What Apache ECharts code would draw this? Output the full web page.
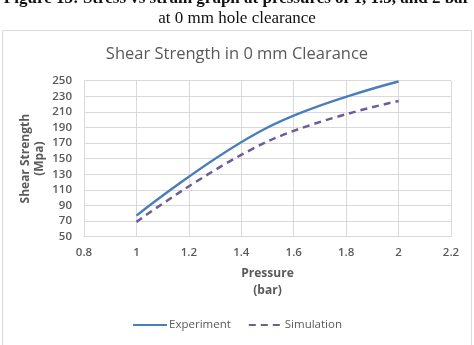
<!DOCTYPE html>
<html>
<head>
<meta charset="utf-8">
<script src="https://cdn.jsdelivr.net/npm/echarts@6/dist/echarts.min.js"></script>
<style>
html,body{margin:0;padding:0;background:#fff;}
#c{width:474px;height:345px;}
</style>
</head>
<body>
<div id="c"></div>
<script>
var pressure = [1, 1.5, 2];
var experiment = [77, 190, 249];
var simulation = [69, 172, 224];
var xTicks = [0.8, 1, 1.2, 1.4, 1.6, 1.8, 2, 2.2];
var yTicks = [50, 70, 90, 110, 130, 150, 170, 190, 210, 230, 250];

var chart = echarts.init(document.getElementById('c'), null, {renderer: 'canvas'});
var labelColor = '#595959';
chart.setOption({
  animation: false,
  backgroundColor: '#fff',
  graphic: [
    {type: 'rect', shape: {x: 2.5, y: 30.5, width: 469, height: 320}, style: {fill: 'none', stroke: '#d9d9d9', lineWidth: 1}, silent: true},
    {type: 'text', left: 'center', top: -10, style: {text: 'Figure 13: Stress vs strain graph at pressures of 1, 1.5, and 2 bar', font: 'bold 17px "Liberation Serif"', fill: '#111'}},
    {type: 'text', left: 'center', top: 10, style: {text: 'at 0 mm hole clearance', font: '17px "Liberation Serif"', fill: '#111'}}
  ],
  title: {
    text: 'Shear Strength in 0 mm Clearance',
    left: 'center',
    top: 41,
    textStyle: {fontFamily: 'Open Sans', fontSize: 16.5, fontWeight: 'normal', color: labelColor}
  },
  legend: {
    bottom: 9,
    left: 'center',
    itemWidth: 34,
    itemHeight: 10,
    itemGap: 17,
    itemStyle: {opacity: 0},
    textStyle: {fontFamily: 'Open Sans', fontSize: 11.5, color: labelColor, padding: [0, 0, 0, -3]},
    data: ['Experiment', 'Simulation']
  },
  grid: {left: 84, right: 23, top: 80.7, bottom: 108.3},
  xAxis: {
    type: 'value',
    min: xTicks[0], max: xTicks[xTicks.length - 1], interval: 0.2,
    name: 'Pressure\n(bar)',
    nameLocation: 'middle',
    nameGap: 28,
    nameMoveOverlap: false,
    nameTextStyle: {fontFamily: 'Open Sans', fontSize: 12, fontWeight: 'bold', color: labelColor, lineHeight: 17},
    axisLine: {lineStyle: {color: '#d9d9d9'}},
    axisTick: {show: false},
    axisLabel: {fontFamily: 'Open Sans', fontSize: 11.5, color: labelColor, margin: 10, fontWeight: 600,
      formatter: function (v) { return String(Math.round(v * 10) / 10); }},
    splitLine: {show: true, lineStyle: {color: '#d9d9d9'}}
  },
  yAxis: {
    type: 'value',
    min: yTicks[0], max: yTicks[yTicks.length - 1], interval: 20,
    name: 'Shear Strength\n(Mpa)',
    nameLocation: 'middle',
    nameGap: 38,
    nameMoveOverlap: false,
    nameRotate: 90,
    nameTextStyle: {fontFamily: 'Open Sans', fontSize: 12, fontWeight: 'bold', color: labelColor, lineHeight: 13.5},
    axisLine: {show: true, lineStyle: {color: '#d9d9d9'}},
    axisTick: {show: false},
    axisLabel: {fontFamily: 'Open Sans', fontSize: 11.5, color: labelColor, margin: 12, fontWeight: 600},
    splitLine: {show: true, lineStyle: {color: '#d9d9d9'}}
  },
  series: [
    {
      name: 'Experiment', type: 'line', smooth: 0.4, symbol: 'none',
      data: pressure.map(function (p, i) { return [p, experiment[i]]; }),
      lineStyle: {color: '#4a7ebb', width: 2.5},
      itemStyle: {color: '#4a7ebb'}
    },
    {
      name: 'Simulation', type: 'line', smooth: 0.4, symbol: 'none',
      data: pressure.map(function (p, i) { return [p, simulation[i]]; }),
      lineStyle: {color: '#6f5b9c', width: 2.5, type: [7, 5]},
      itemStyle: {color: '#6f5b9c'}
    }
  ]
});
</script>
</body>
</html>
